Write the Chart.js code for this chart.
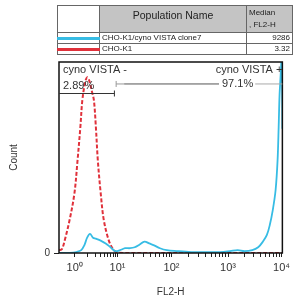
<!DOCTYPE html>
<html>
<head>
<meta charset="utf-8">
<script src="https://cdn.jsdelivr.net/npm/chart.js@4.4.1/dist/chart.umd.min.js"></script>
<style>
  html, body { margin: 0; padding: 0; background: #fff; }
  #wrap { position: relative; width: 294px; height: 300px; }
  #wrap canvas { position: absolute; left: 0; top: 0; }
  #legend { position: absolute; left: 57px; top: 5px; border-collapse: collapse;
    font-family: 'Liberation Sans', Arial, sans-serif; font-size: 8px; color: #222; }
  #legend td { border: 1px solid #666; padding: 0 2px; line-height: 10px; white-space: nowrap; }
  #legend .head { background: #c4c4c4; }
  #legend .swatch { padding: 0; position: relative; }
  #legend .swatch div { position: absolute; left: -1px; right: -1px; top: 4px; height: 3px; }
</style>
</head>
<body>
<div id="wrap">
  <canvas id="histo" width="294" height="300"></canvas>
  <table id="legend"></table>
</div>
<script>
// populations shown in the table / overlay
const populations = ['CHO-K1/cyno VISTA clone7', 'CHO-K1'];
const medians = ['9286', '3.32'];
const colors = ['#37bce4', '#e0313b'];

// x axis is in channel units, decades sit at these channels
const decadeLabels = ['10⁰', '10¹', '10²', '10³', '10⁴'];
const decadeChannels = [72, 268, 516, 775, 1020];

// clone7 histogram (blue)
const cloneChannels = [0, 49, 80, 102, 116, 129, 142, 156, 169, 191, 214, 236, 258, 280, 303, 325, 347, 370, 392, 414, 436, 463, 494, 539, 606, 672, 739, 784, 819, 850, 886, 913, 935, 953, 966, 980, 993, 1002, 1007, 1011, 1016, 1020, 1022, 1024];
const cloneCounts = [0, 0, 1, 3, 8, 16, 20, 16, 15, 13, 10, 6, 2, 3, 5, 5, 6, 9, 12, 10, 8, 5, 3, 2, 1, 1, 1, 2, 3, 2, 3, 6, 12, 19, 29, 45, 66, 97, 132, 165, 186, 205, 225, 130];

// parental CHO-K1 histogram (red)
const parentChannels = [0, 13, 27, 49, 71, 85, 98, 107, 120, 129, 138, 151, 160, 169, 178, 191, 205, 227, 245, 263, 294, 600, 1024];
const parentCounts = [3, 4, 14, 35, 63, 97, 132, 160, 179, 184, 181, 169, 160, 132, 97, 63, 35, 14, 5, 1, 0, 0, 0];

// gates
const gateNames = ['cyno VISTA -', 'cyno VISTA +'];
const gatePercents = ['2.89%', '97.1%'];
const gateStarts = [0, 262];
const gateEnds = [254, 1024];
const gateLevels = [167, 177];

// legend table
const tbl = document.getElementById('legend');
let html = '<tr style="height:27px"><td style="width:37px"></td>' +
  '<td class="head" style="width:142px;text-align:center;vertical-align:top;padding-top:3px;font-size:10.5px;line-height:12px">Population Name</td>' +
  '<td class="head" style="width:41px;vertical-align:top;padding-top:1px;line-height:12px">Median<br>, FL2-H</td></tr>';
populations.forEach((p, i) => {
  html += '<tr style="height:11px"><td class="swatch"><div style="background:' + colors[i] + '"></div></td>' +
    '<td>' + p + '</td><td style="text-align:right">' + medians[i] + '</td></tr>';
});
tbl.innerHTML = html;

const font = "'Liberation Sans', Arial, sans-serif";

const framePlugin = {
  id: 'frame',
  afterDatasetsDraw(chart) {
    const { ctx, chartArea: a, scales } = chart;
    const x = scales.x, y = scales.y;
    ctx.save();
    ctx.strokeStyle = '#111';
    ctx.lineWidth = 1.5;
    ctx.strokeRect(a.left, a.top, a.right - a.left, a.bottom - a.top);

    ctx.font = '11px ' + font;
    ctx.fillStyle = '#333';
    ctx.textBaseline = 'middle';
    // negative gate
    let x0 = x.getPixelForValue(gateStarts[0]), x1 = x.getPixelForValue(gateEnds[0]);
    let gy = y.getPixelForValue(gateLevels[0]);
    ctx.strokeStyle = '#333';
    ctx.lineWidth = 1;
    ctx.beginPath();
    ctx.moveTo(x0, gy); ctx.lineTo(x1, gy);
    ctx.moveTo(x1, gy - 3); ctx.lineTo(x1, gy + 3);
    ctx.stroke();
    ctx.textAlign = 'left';
    ctx.fillText(gateNames[0], a.left + 4, a.top + 8);
    ctx.fillText(gatePercents[0], a.left + 4, gy - 8);
    // positive gate
    x0 = x.getPixelForValue(gateStarts[1]); x1 = x.getPixelForValue(gateEnds[1]);
    gy = y.getPixelForValue(gateLevels[1]);
    const tw = ctx.measureText(gatePercents[1]).width;
    const tx = 222;
    ctx.strokeStyle = '#999';
    ctx.beginPath();
    ctx.moveTo(x0, gy - 3); ctx.lineTo(x0, gy + 3);
    ctx.moveTo(x0, gy); ctx.lineTo(x0 + 8, gy);
    ctx.stroke();
    ctx.strokeStyle = '#555';
    ctx.beginPath();
    ctx.moveTo(x0 + 8, gy); ctx.lineTo(tx - 3, gy);
    ctx.stroke();
    ctx.strokeStyle = '#aaa';
    ctx.beginPath();
    ctx.moveTo(tx + tw + 2, gy); ctx.lineTo(x1, gy);
    ctx.stroke();
    ctx.fillText(gatePercents[1], tx, gy);
    ctx.textAlign = 'right';
    ctx.fillText(gateNames[1], a.right, a.top + 8);
    ctx.restore();
  }
};

new Chart(document.getElementById('histo').getContext('2d'), {
  type: 'line',
  data: {
    datasets: [
      {
        label: populations[0],
        data: cloneChannels.map((c, i) => ({ x: c, y: cloneCounts[i] })),
        borderColor: colors[0],
        borderWidth: 1.8,
        pointRadius: 0,
        tension: 0.35,
      },
      {
        label: populations[1],
        data: parentChannels.map((c, i) => ({ x: c, y: parentCounts[i] })),
        borderColor: colors[1],
        borderWidth: 2,
        borderDash: [4, 2],
        pointRadius: 0,
        tension: 0.35,
      },
    ],
  },
  options: {
    responsive: false,
    animation: false,
    layout: { padding: { top: 62, right: 5, left: 0, bottom: 0 } },
    plugins: { legend: { display: false }, tooltip: { enabled: false } },
    scales: {
      x: {
        type: 'linear',
        min: 0,
        max: 1024,
        afterFit(s) { s.height = 47; },
        afterBuildTicks(s) {
          const t = [];
          decadeChannels.forEach((c, k) => {
            t.push({ value: c });
            if (k < decadeChannels.length - 1) {
              for (let m = 2; m < 10; m++) {
                t.push({ value: c + (decadeChannels[k + 1] - c) * Math.log10(m) });
              }
            }
          });
          s.ticks = t;
        },
        ticks: {
          autoSkip: false,
          maxRotation: 0,
          padding: 4,
          color: '#333',
          font: { family: font, size: 11 },
          callback: (v) => {
            const i = decadeChannels.indexOf(v);
            return i >= 0 ? decadeLabels[i] : '';
          },
        },
        grid: { drawOnChartArea: false, tickLength: 4, color: '#222' },
        border: { display: false },
        title: {
          display: true,
          text: 'FL2-H',
          color: '#333',
          font: { family: font, size: 10 },
          padding: { top: 0, bottom: 2 },
        },
      },
      y: {
        min: 0,
        max: 200,
        afterFit(s) { s.width = 59; },
        afterBuildTicks(s) { s.ticks = [{ value: 0 }]; },
        ticks: { color: '#333', padding: 4, font: { family: font, size: 10 } },
        grid: { drawOnChartArea: false, tickLength: 5, color: '#222' },
        border: { display: false },
        title: {
          display: true,
          text: 'Count',
          color: '#333',
          font: { family: font, size: 10 },
          padding: { top: 8, bottom: 0 },
        },
      },
    },
  },
  plugins: [framePlugin],
});
</script>
</body>
</html>
